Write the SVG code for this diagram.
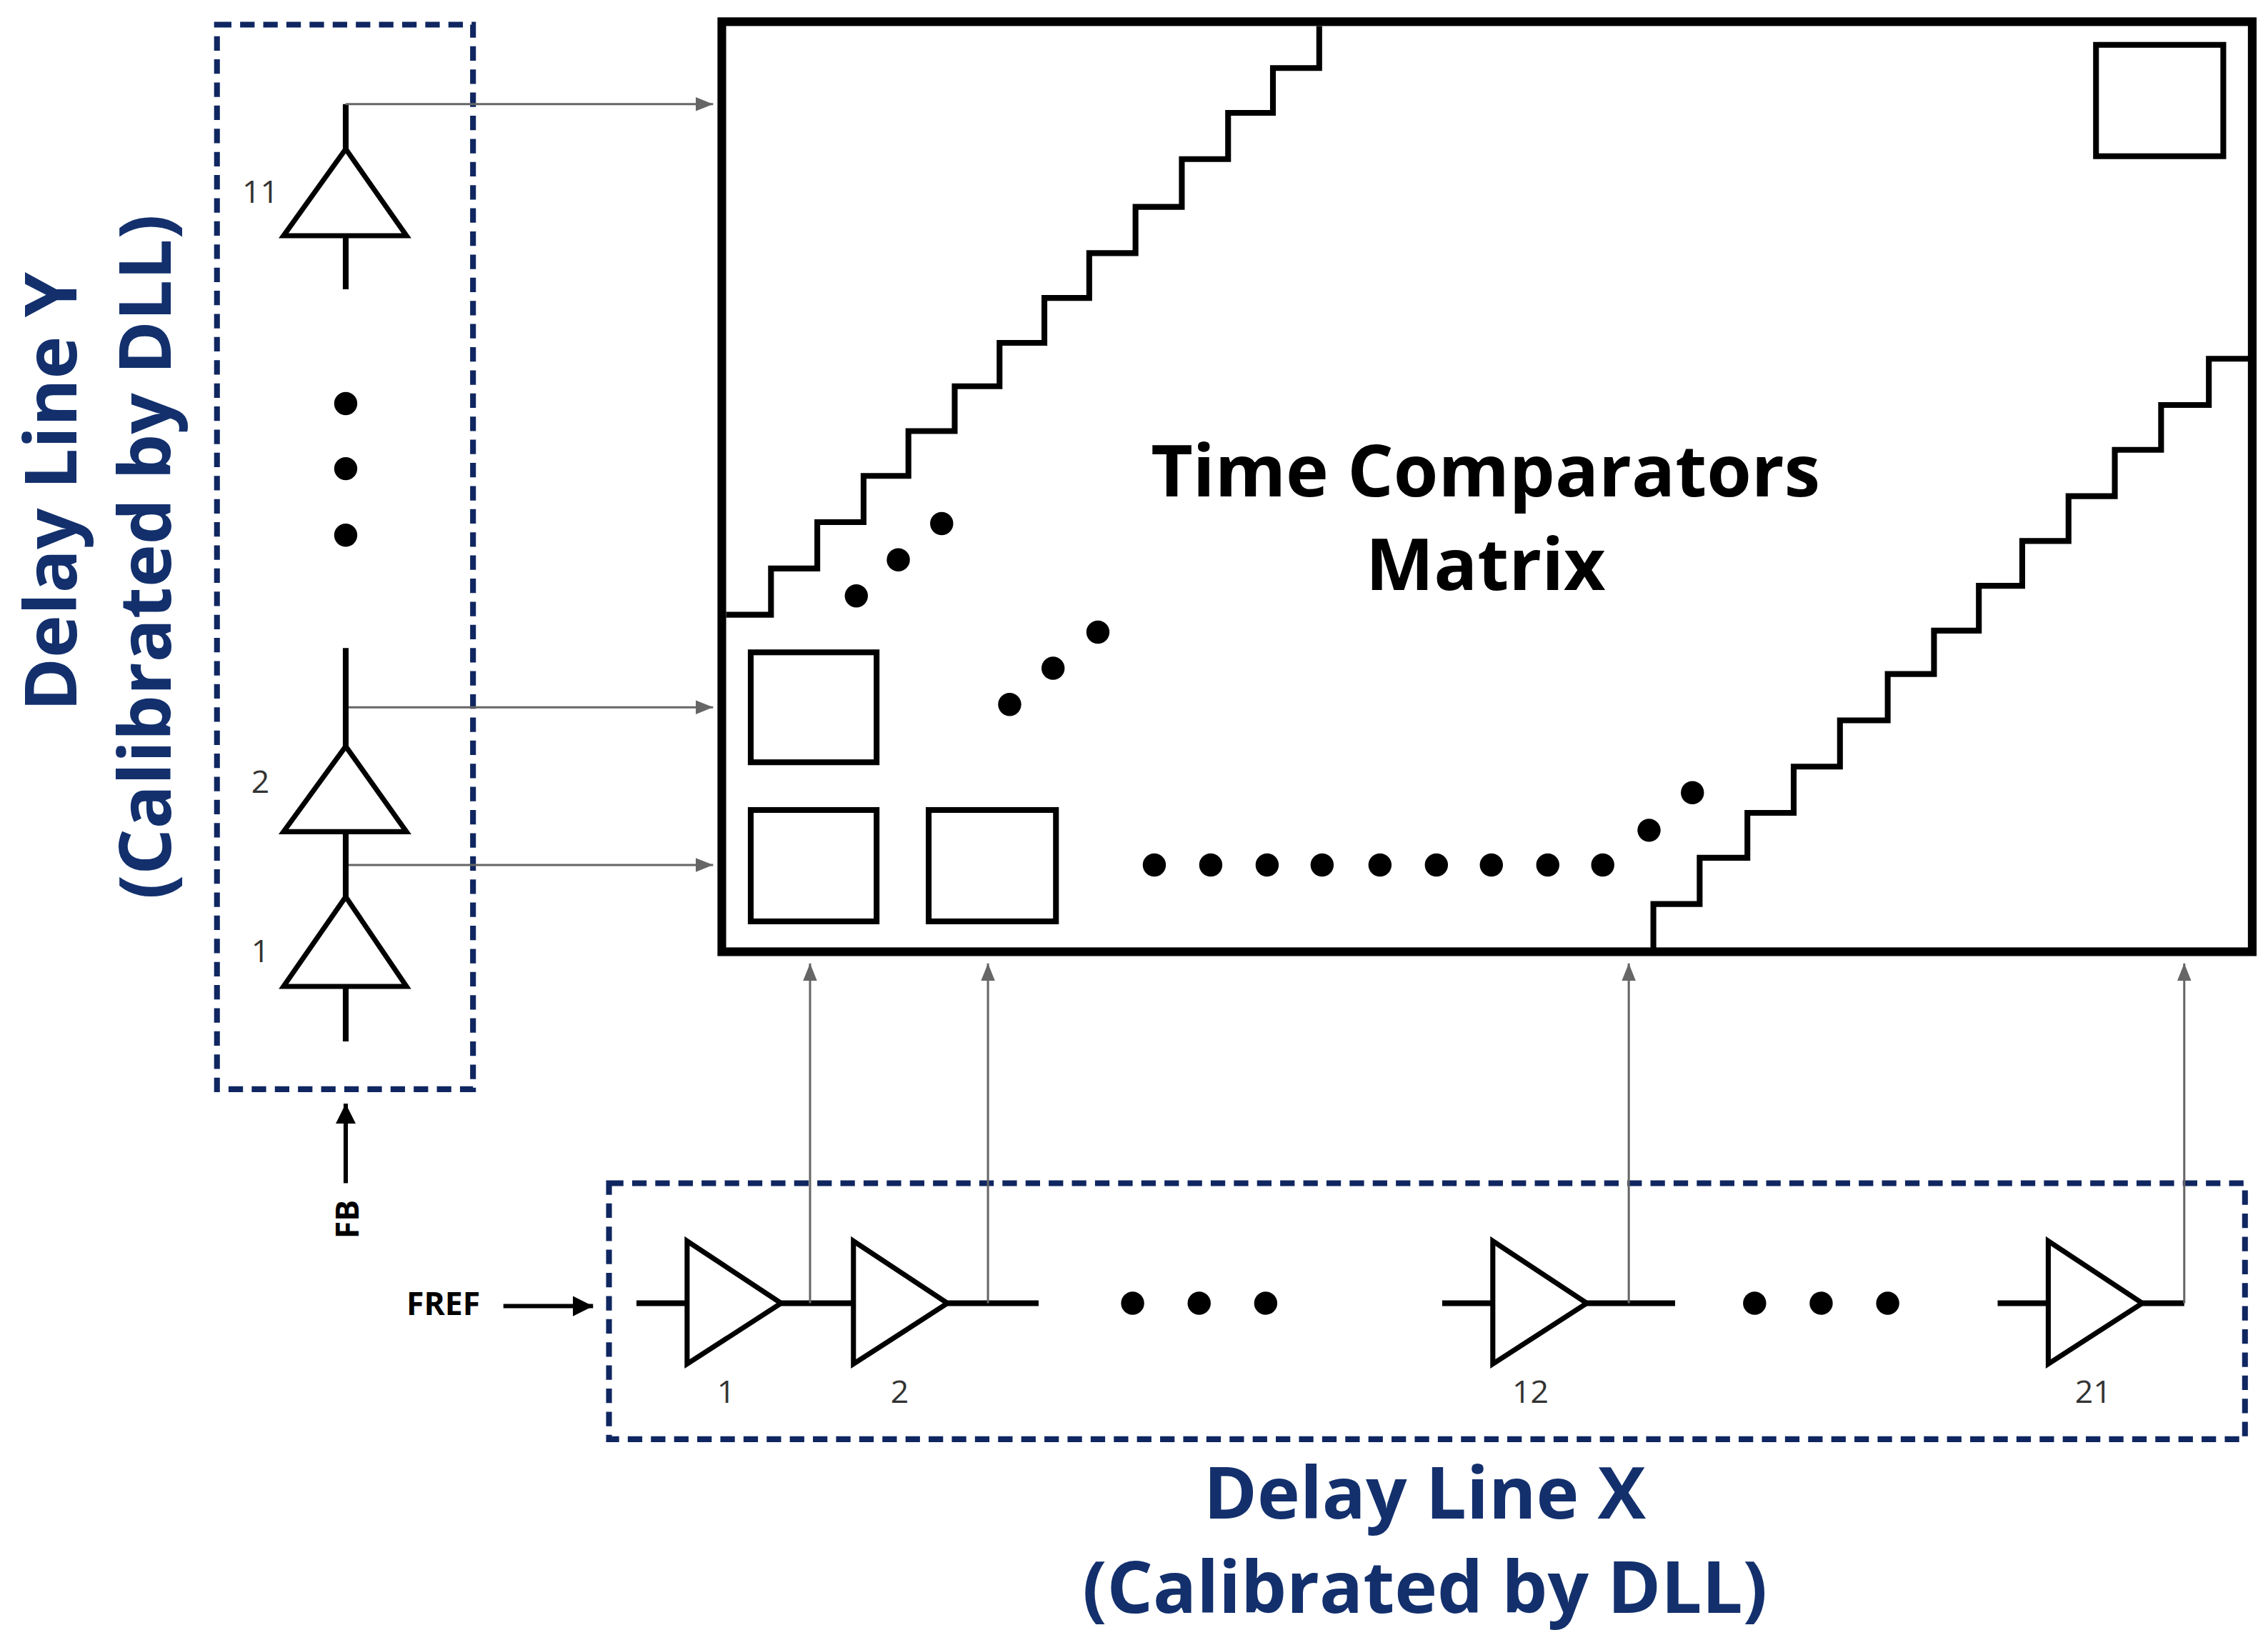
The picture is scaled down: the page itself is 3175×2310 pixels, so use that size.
<svg xmlns="http://www.w3.org/2000/svg" width="3175" height="2310" viewBox="0 0 3175 2310">
<defs>
<marker id="ga" viewBox="0 0 10 10" refX="10" refY="5" markerWidth="12" markerHeight="12" markerUnits="userSpaceOnUse" orient="auto"><path d="M0,1 L10,5 L0,9 Z" fill="#666"/></marker>
<marker id="ba" viewBox="0 0 10 10" refX="10" refY="5" markerWidth="14" markerHeight="14" markerUnits="userSpaceOnUse" orient="auto"><path d="M0,0 L10,5 L0,10 Z" fill="#000"/></marker>
</defs>
<style>
.w{fill:none;stroke:#000;stroke-width:4;stroke-linecap:butt}
.tri{fill:#fff;stroke:#000;stroke-width:3.5;stroke-linejoin:miter}
.dash{fill:none;stroke:#0f2660;stroke-width:4;stroke-dasharray:10,6}
.g{fill:none;stroke:#666;stroke-width:1.5}
.sq{fill:none;stroke:#000;stroke-width:4}
.dot{fill:#000}
.big{font-family:"Open Sans","Noto Sans",sans-serif;font-weight:bold;font-size:50px;text-anchor:middle}
.blue{fill:#13306d}
.sm{font-family:"Open Sans","Noto Sans",sans-serif;font-size:22px;fill:#333;text-anchor:middle}
.lb{font-family:"Open Sans","Noto Sans",sans-serif;font-size:22px;font-weight:bold;fill:#000}
</style>
<rect width="3175" height="2310" fill="#fff"/>
<g transform="scale(2.025)">
<g id="matrix">
<rect x="499" y="15" width="1058" height="643" fill="none" stroke="#000" stroke-width="6"/>
<path class="w" d="M502,425 H533 V393 H565 V361 H597 V329 H628 V298 H660 V267 H691 V237 H722 V206 H753 V175 H785 V143 H817 V110 H849 V78 H880 V47 H912 V18"/>
<path class="w" d="M1143,656 V625 H1175 V593 H1208 V562 H1240 V530 H1272 V498 H1305 V466 H1337 V436 H1368 V405 H1398 V374 H1430 V343 H1462 V311 H1494 V280 H1527 V248 H1555"/>
<rect class="sq" x="519" y="451" width="87" height="76"/>
<rect class="sq" x="519" y="560" width="87" height="77"/>
<rect class="sq" x="642" y="560" width="88" height="77"/>
<rect class="sq" x="1449" y="31" width="88" height="77"/>
<g class="dot">
<circle cx="592" cy="412" r="8"/><circle cx="621" cy="387" r="8"/><circle cx="651" cy="362" r="8"/>
<circle cx="698" cy="487" r="8"/><circle cx="728" cy="462" r="8"/><circle cx="759" cy="437" r="8"/>
<circle cx="1140" cy="574" r="8"/><circle cx="1170" cy="548" r="8"/>
<circle cx="798" cy="598" r="8"/><circle cx="837" cy="598" r="8"/><circle cx="876" cy="598" r="8"/><circle cx="914" cy="598" r="8"/><circle cx="954" cy="598" r="8"/><circle cx="993" cy="598" r="8"/><circle cx="1031" cy="598" r="8"/><circle cx="1070" cy="598" r="8"/><circle cx="1108" cy="598" r="8"/>
</g>
<text class="big" x="1027" y="343">Time Comparators</text>
<text class="big" x="1027" y="408">Matrix</text>
</g>
<g id="delayY">
<rect class="dash" x="150" y="17" width="177" height="736"/>
<path class="w" d="M239,72 V103 M239,163 V200 M239,448 V516 M239,575 V620 M239,682 V720"/>
<polygon class="tri" points="239,103 281,163 196,163"/>
<polygon class="tri" points="239,516 281,575 196,575"/>
<polygon class="tri" points="239,620 281,682 196,682"/>
<g class="dot"><circle cx="239" cy="279" r="8"/><circle cx="239" cy="324" r="8"/><circle cx="239" cy="370" r="8"/></g>
<text class="sm" x="180" y="140">11</text>
<text class="sm" x="180" y="548">2</text>
<text class="sm" x="180" y="665">1</text>
<g transform="translate(35,340) rotate(-90)"><text class="big blue" x="0" y="18">Delay Line Y</text></g>
<g transform="translate(100,385) rotate(-90)"><text class="big blue" x="0" y="18">(Calibrated by DLL)</text></g>
</g>
<g id="delayX">
<rect class="dash" x="421" y="818" width="1131" height="177"/>
<path class="w" d="M440,901 H475 M540,901 H590 M655,901 H718 M997,901 H1032 M1097,901 H1158 M1381,901 H1416 M1481,901 H1510"/>
<polygon class="tri" points="475,858 540,901 475,943"/>
<polygon class="tri" points="590,858 655,901 590,943"/>
<polygon class="tri" points="1032,858 1097,901 1032,943"/>
<polygon class="tri" points="1416,858 1481,901 1416,943"/>
<g class="dot"><circle cx="783" cy="901" r="8"/><circle cx="829" cy="901" r="8"/><circle cx="875" cy="901" r="8"/><circle cx="1213" cy="901" r="8"/><circle cx="1259" cy="901" r="8"/><circle cx="1305" cy="901" r="8"/></g>
<text class="sm" x="502" y="970">1</text>
<text class="sm" x="622" y="970">2</text>
<text class="sm" x="1058" y="970">12</text>
<text class="sm" x="1447" y="970">21</text>
<text class="big blue" x="985" y="1050">Delay Line X</text>
<text class="big blue" x="985" y="1115">(Calibrated by DLL)</text>
</g>
<g id="inputs">
<text class="lb" x="281" y="909">FREF</text>
<g transform="translate(248,843) rotate(-90)"><text class="lb" x="0" y="0" text-anchor="middle">FB</text></g>
</g>
<g id="connectors">
<line class="g" x1="239" y1="72" x2="493" y2="72" marker-end="url(#ga)"/>
<line class="g" x1="241" y1="489" x2="493" y2="489" marker-end="url(#ga)"/>
<line class="g" x1="241" y1="598" x2="493" y2="598" marker-end="url(#ga)"/>
<line class="g" x1="560" y1="901" x2="560" y2="666" marker-end="url(#ga)"/>
<line class="g" x1="683" y1="901" x2="683" y2="666" marker-end="url(#ga)"/>
<line class="g" x1="1126" y1="901" x2="1126" y2="666" marker-end="url(#ga)"/>
<line class="g" x1="1510" y1="901" x2="1510" y2="666" marker-end="url(#ga)"/>
<line x1="348" y1="903" x2="410" y2="903" stroke="#000" stroke-width="3" marker-end="url(#ba)"/>
<line x1="239" y1="818" x2="239" y2="763" stroke="#000" stroke-width="3" marker-end="url(#ba)"/>
</g>
</g>
</svg>
